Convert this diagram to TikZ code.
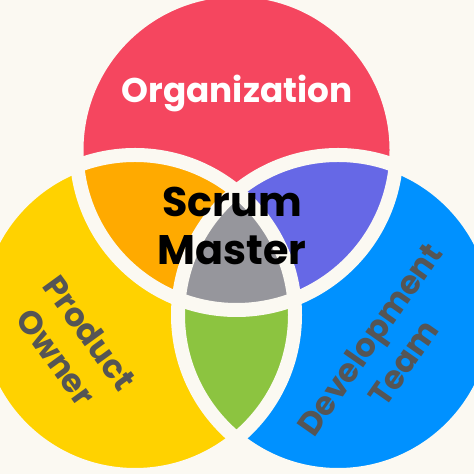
\documentclass[tikz,border=0pt]{standalone}
\usepackage{fontspec}
\setmainfont{Poppins}
\usepackage{tikz}
\usetikzlibrary{positioning}
\definecolor{bgcolor}{RGB}{251,249,242}
\definecolor{orgcolor}{RGB}{245,70,95}
\definecolor{pocolor}{RGB}{255,210,0}
\definecolor{devcolor}{RGB}{0,145,255}
\definecolor{orgpocolor}{RGB}{255,170,0}
\definecolor{orgdevcolor}{RGB}{102,104,230}
\definecolor{podevcolor}{RGB}{140,196,64}
\definecolor{allcolor}{RGB}{150,150,156}
\definecolor{textgray}{RGB}{85,85,85}

\begin{document}
\begin{tikzpicture}[
        ring/.style={draw=bgcolor, line width=0.28cm},
        title/.style={font=\bfseries\fontsize{19.5}{24}\selectfont, align=center, inner sep=0pt},
        middle/.style={font=\bfseries\fontsize{23.5}{27}\selectfont, align=center, inner sep=0pt},
        side/.style={font=\bfseries\fontsize{18.5}{23.5}\selectfont, align=center, text=textgray, inner sep=0pt}
    ]
        % Frame
        \fill[bgcolor] (0,0) rectangle (9.48,9.48);
        \useasboundingbox (0,0) rectangle (9.48,9.48);
        \clip (0,0) rectangle (9.48,9.48);

        % Circle centres
        \coordinate (org) at (4.73,6.48);
        \coordinate (po) at (2.70,3.18);
        \coordinate (dev) at (6.76,3.18);
        \def\rad{3.2cm}

        % Circles
        \fill[pocolor] (po) circle (\rad);
        \fill[devcolor] (dev) circle (\rad);
        \fill[orgcolor] (org) circle (\rad);

        % Overlaps
        \begin{scope}
            \clip (org) circle (\rad);
            \fill[orgpocolor] (po) circle (\rad);
            \fill[orgdevcolor] (dev) circle (\rad);
        \end{scope}
        \begin{scope}
            \clip (po) circle (\rad);
            \fill[podevcolor] (dev) circle (\rad);
            \clip (org) circle (\rad);
            \fill[allcolor] (dev) circle (\rad);
        \end{scope}

        % Gaps between the parts
        \draw[ring] (org) circle (\rad);
        \draw[ring] (po) circle (\rad);
        \draw[ring] (dev) circle (\rad);

        % Labels
        \node[title, text=white] (orgtext) at (4.74,7.62) {Organization};
        \node[middle] (smtext) at (4.64,4.96) {Scrum\\Master};
        \node[side, rotate=-54] (potext) at (1.46,2.58) {Product\\Owner};
        \node[side, rotate=55] (devtext) at (7.72,2.46) {Development\\Team};

    \end{tikzpicture}
\end{document}
